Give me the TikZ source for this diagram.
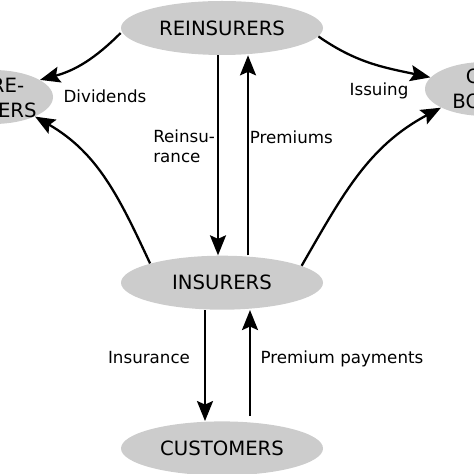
\documentclass[tikz,border=0pt]{standalone}
\usepackage{fontspec}
\setmainfont{DejaVu Sans}
\usetikzlibrary{shapes.geometric, arrows.meta, positioning}
\definecolor{partygray}{RGB}{204,204,204}

\begin{document}
\begin{tikzpicture}[
    party/.style={ellipse, fill=partygray, minimum width=4.04cm, minimum height=1.08cm, inner sep=0pt, font=\fontsize{11.2pt}{14.5pt}\selectfont},
    side/.style={ellipse, fill=partygray, minimum width=2.4cm, minimum height=1.08cm, inner sep=0pt},
    tag/.style={font=\fontsize{11.2pt}{14.5pt}\selectfont, inner sep=0pt},
    lbl/.style={font=\fontsize{9.5pt}{11.5pt}\selectfont, inner sep=0pt},
    arrow/.style={line width=1.3pt, -{Stealth[length=0.4cm, width=0.32cm, inset=0.07cm]}}
]

\useasboundingbox (0,0) rectangle (9.48,-9.48);
\clip (0,0) rectangle (9.48,-9.48);

% Parties
\node[party] (reinsurers) at (4.44,-0.56) {REINSURERS};
\node[party, below=4cm of reinsurers] (insurers) {INSURERS};
\node[party, below=2.22cm of insurers] (customers) {CUSTOMERS};

% Parties cut off at the edges
\node[side] (holders) at (-0.14,-1.94) {};
\node[side] (bonds) at (9.7,-1.78) {};
\node[tag, anchor=east, align=right] (holderstext) at (0.74,-1.96) {RE-\hphantom{S}\\ERS};
\node[tag, anchor=west, align=left] (bondstext) at (9.04,-1.78) {\hphantom{B}C\\BO};

% Straight flows
\draw[arrow] ([xshift=-0.08cm]reinsurers.south) -- ([xshift=-0.08cm]insurers.north);
\draw[arrow] ([xshift=0.52cm]insurers.north) -- ([xshift=0.52cm]reinsurers.south);
\draw[arrow] ([xshift=-0.34cm]insurers.south) -- ([xshift=-0.34cm]customers.north);
\draw[arrow] ([xshift=0.56cm,yshift=0.1cm]customers.north) -- ([xshift=0.56cm]insurers.south);

% Curved flows
\draw[arrow] ([yshift=-0.1cm]reinsurers.west) to[out=-135, in=15] (holders.20);
\draw[arrow] (insurers.165) to[out=115, in=-30] (holders.-25);
\draw[arrow] (reinsurers.-5) to[out=-35, in=168] (bonds.168);
\draw[arrow] (insurers.12) to[out=60, in=-152] (bonds.203);

% Flow labels
\node[lbl] (dividends) at (2.1,-1.92) {Dividends};
\node[lbl] (issuing) at (7.58,-1.82) {Issuing};
\node[lbl, anchor=west, align=left] (reinsurance) at (3.06,-2.92) {Reinsu-\\rance};
\node[lbl, anchor=west] (premiums) at (4.99,-2.74) {Premiums};
\node[lbl] (insurance) at (2.98,-7.16) {Insurance};
\node[lbl] (payments) at (6.84,-7.18) {Premium payments};

\end{tikzpicture}
\end{document}
